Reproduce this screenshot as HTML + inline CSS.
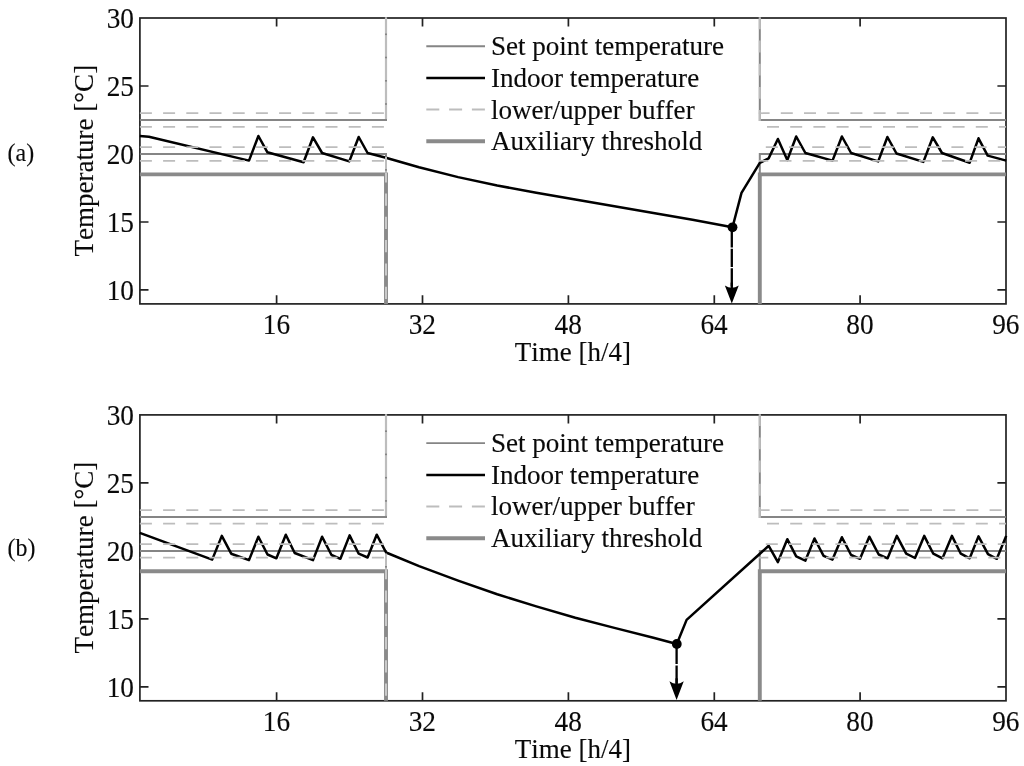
<!DOCTYPE html>
<html><head><meta charset="utf-8"><title>Temperature</title>
<style>
html,body{margin:0;padding:0;background:#fff;}
body{width:1024px;height:766px;overflow:hidden;}
svg{display:block;}
svg text{font-family:"Liberation Serif","Times New Roman",serif;font-size:27.3px;fill:#0a0a0a;stroke:#0a0a0a;stroke-width:0.12px;font-kerning:none;}
</style></head><body>
<svg width="1024" height="766" viewBox="0 0 1024 766">
<rect width="1024" height="766" fill="#fff"/>
<g transform="translate(0,0.0)">
<rect x="139.9" y="18.0" width="866.1" height="285.9" fill="none" stroke="#222" stroke-width="1.7"/>
<path d="M276.6 303.9v-8.6M276.6 18.0v8.6M422.5 303.9v-8.6M422.5 18.0v8.6M568.4 303.9v-8.6M568.4 18.0v8.6M714.3 303.9v-8.6M714.3 18.0v8.6M860.1 303.9v-8.6M860.1 18.0v8.6M139.9 289.9h8.6M1006.0 289.9h-8.6M139.9 222.0h8.6M1006.0 222.0h-8.6M139.9 154.0h8.6M1006.0 154.0h-8.6M139.9 86.0h8.6M1006.0 86.0h-8.6" stroke="#222" stroke-width="1.7" fill="none"/>
<path d="M139.9 120.0H386.0V17.5 M759.8 17.5V120.0H1006.0" stroke="#858585" stroke-width="2" fill="none"/>
<path d="M139.9 154.0H386.0V174.4 M759.8 174.4V154.0H1006.0" stroke="#858585" stroke-width="2" fill="none"/>
<polyline points="139.8,136.0 148.9,136.8 249.0,160.6 258.4,136.0 267.3,152.2 303.6,162.2 313.0,137.3 322.1,153.0 349.3,161.4 358.7,137.0 367.6,153.0 385.9,157.8 419.0,167.3 458.1,177.1 497.2,185.5 536.3,192.7 575.3,199.4 614.4,206.3 653.4,212.9 692.5,219.7 732.5,227.3 741.5,192.9 759.8,162.9 768.6,158.4 777.9,139.0 787.3,160.1 796.2,136.5 805.4,153.0 832.5,160.6 841.9,136.5 851.1,153.0 878.2,161.4 887.4,137.0 896.5,153.5 923.4,161.9 932.8,137.3 942.0,153.0 969.7,162.7 978.5,138.3 987.7,155.6 1006.2,160.6" fill="none" stroke="#000" stroke-width="2.5" stroke-linejoin="round"/>
<path d="M139.9 174.4H386.0V303.9 M759.8 303.9V174.4H1006.0" stroke="#8a8a8a" stroke-width="3.9" fill="none"/>
<path d="M139.9 113.2H385.0" stroke="#bdbdbd" stroke-width="1.7" fill="none" stroke-dasharray="12 11.2"/>
<path d="M139.9 126.8H385.0" stroke="#bdbdbd" stroke-width="1.7" fill="none" stroke-dasharray="12 11.2"/>
<path d="M139.9 147.2H385.0" stroke="#bdbdbd" stroke-width="1.7" fill="none" stroke-dasharray="12 11.2"/>
<path d="M139.9 160.8H385.0" stroke="#bdbdbd" stroke-width="1.7" fill="none" stroke-dasharray="12 11.2"/>
<path d="M758.8 113.2H1006.0" stroke="#bdbdbd" stroke-width="1.7" fill="none" stroke-dasharray="12 11.2" stroke-dashoffset="1.2"/>
<path d="M767.0 126.8H1006.0" stroke="#bdbdbd" stroke-width="1.7" fill="none" stroke-dasharray="12 11.2"/>
<path d="M765.8 147.2H1006.0" stroke="#bdbdbd" stroke-width="1.7" fill="none" stroke-dasharray="12 11.2"/>
<path d="M758.8 160.8H1006.0" stroke="#bdbdbd" stroke-width="1.7" fill="none" stroke-dasharray="12 11.2" stroke-dashoffset="2.5"/>
<path d="M386.0 119.0V17.3" stroke="#bdbdbd" stroke-width="2.2" fill="none"/>
<rect x="385.0" y="33.5" width="2" height="1.6" fill="#858585"/>
<rect x="385.0" y="56.7" width="2" height="1.6" fill="#858585"/>
<rect x="385.0" y="80.0" width="2" height="1.6" fill="#858585"/>
<rect x="385.0" y="103.2" width="2" height="1.6" fill="#858585"/>
<path d="M386.0 156.5V172.4" stroke="#bdbdbd" stroke-width="2" fill="none"/>
<rect x="385.0" y="169.1" width="2" height="1.6" fill="#858585"/>
<path d="M386.0 172.4V303.9" stroke="#cdcdcd" stroke-width="1.9" fill="none" stroke-dasharray="12.2 11.1" stroke-dashoffset="2.2"/>
<path d="M759.8 17.3V121.0" stroke="#bdbdbd" stroke-width="2.1" fill="none" stroke-dasharray="11.9 11.3"/>
<path d="M731.8 227.3V287.8" stroke="#000" stroke-width="2.3" fill="none" stroke-dasharray="18.3 1.3" stroke-dashoffset="-1.8"/>
<path d="M731.8 282.6V288.8" stroke="#000" stroke-width="2.3" fill="none"/>
<path d="M731.80 303.50L724.85 285.60Q731.80 290.00 738.75 285.60Z" fill="#000"/>
<circle cx="732.5" cy="227.3" r="4.9" fill="#000"/>
<path d="M426.3 46.2H485.0" stroke="#858585" stroke-width="1.9"/>
<path d="M426.3 78.1H485.0" stroke="#000" stroke-width="2.5"/>
<path d="M426.3 109.5H485.0" stroke="#bdbdbd" stroke-width="2" stroke-dasharray="13 9.8"/>
<path d="M426.3 141.3H485.0" stroke="#8a8a8a" stroke-width="3.9"/>
<text transform="translate(490.90,55.20) scale(1,1.04)" style="font-size:27.1px">Set point temperature</text>
<text transform="translate(490.90,87.30) scale(1,1.04)" style="font-size:27.1px">Indoor temperature</text>
<text transform="translate(490.90,118.50) scale(1,1.04)" style="font-size:27.1px">lower/upper buffer</text>
<text transform="translate(490.90,149.90) scale(1,1.04)" style="font-size:27.1px">Auxiliary threshold</text>
<text transform="translate(276.43,333.80) scale(1,1.04)" text-anchor="middle">16</text>
<text transform="translate(422.30,333.80) scale(1,1.04)" text-anchor="middle">32</text>
<text transform="translate(568.18,333.80) scale(1,1.04)" text-anchor="middle">48</text>
<text transform="translate(714.05,333.80) scale(1,1.04)" text-anchor="middle">64</text>
<text transform="translate(859.93,333.80) scale(1,1.04)" text-anchor="middle">80</text>
<text transform="translate(1005.80,333.80) scale(1,1.04)" text-anchor="middle">96</text>
<text transform="translate(134.00,300.04) scale(1,1.04)" text-anchor="end">10</text>
<text transform="translate(134.00,232.05) scale(1,1.04)" text-anchor="end">15</text>
<text transform="translate(134.00,164.07) scale(1,1.04)" text-anchor="end">20</text>
<text transform="translate(134.00,96.08) scale(1,1.04)" text-anchor="end">25</text>
<text transform="translate(134.00,28.10) scale(1,1.04)" text-anchor="end">30</text>
<text transform="translate(572.90,360.70) scale(1,1.04)" style="font-size:27.0px" text-anchor="middle">Time [h/4]</text>
<text transform="translate(92.60,160.70) rotate(-90) scale(1,1.04)" style="font-size:27.05px" text-anchor="middle">Temperature [°C]</text>
<text x="7.6" y="161.2" style="font-size:24.2px" textLength="26.6" lengthAdjust="spacingAndGlyphs">(a)</text>
</g>
<g transform="translate(0,396.9)">
<rect x="139.9" y="18.0" width="866.1" height="285.9" fill="none" stroke="#222" stroke-width="1.7"/>
<path d="M276.6 303.9v-8.6M276.6 18.0v8.6M422.5 303.9v-8.6M422.5 18.0v8.6M568.4 303.9v-8.6M568.4 18.0v8.6M714.3 303.9v-8.6M714.3 18.0v8.6M860.1 303.9v-8.6M860.1 18.0v8.6M139.9 289.9h8.6M1006.0 289.9h-8.6M139.9 222.0h8.6M1006.0 222.0h-8.6M139.9 154.0h8.6M1006.0 154.0h-8.6M139.9 86.0h8.6M1006.0 86.0h-8.6" stroke="#222" stroke-width="1.7" fill="none"/>
<path d="M139.9 120.0H386.0V17.5 M759.8 17.5V120.0H1006.0" stroke="#858585" stroke-width="2" fill="none"/>
<path d="M139.9 154.0H386.0V174.4 M759.8 174.4V154.0H1006.0" stroke="#858585" stroke-width="2" fill="none"/>
<polyline points="139.8,136.0 212.2,162.7 221.8,139.0 231.2,156.8 249.0,163.2 258.4,139.8 267.5,157.6 276.4,161.4 285.8,137.8 294.7,156.1 313.0,163.2 322.1,139.8 331.5,158.1 340.4,161.9 349.6,138.5 358.7,156.8 367.6,160.6 376.7,137.8 386.1,155.6 419.1,169.3 458.1,183.8 497.2,197.4 536.3,209.5 575.3,220.9 614.4,231.0 653.4,240.8 676.8,247.1 686.6,223.0 768.7,148.9 777.9,165.2 787.3,142.3 796.2,159.4 805.4,163.7 814.5,141.6 823.6,158.9 832.5,162.7 841.9,140.3 851.1,158.1 860.0,161.9 869.3,139.8 878.7,157.6 887.6,161.4 896.8,139.0 906.2,156.8 915.0,161.1 924.2,139.0 933.3,156.8 942.5,161.4 951.9,139.0 960.8,156.8 969.7,161.4 978.5,139.5 988.0,157.3 996.8,161.9 1006.2,139.0" fill="none" stroke="#000" stroke-width="2.5" stroke-linejoin="round"/>
<path d="M139.9 174.4H386.0V303.9 M759.8 303.9V174.4H1006.0" stroke="#8a8a8a" stroke-width="3.9" fill="none"/>
<path d="M139.9 113.2H385.0" stroke="#bdbdbd" stroke-width="1.7" fill="none" stroke-dasharray="12 11.2"/>
<path d="M139.9 126.8H385.0" stroke="#bdbdbd" stroke-width="1.7" fill="none" stroke-dasharray="12 11.2"/>
<path d="M139.9 147.2H385.0" stroke="#bdbdbd" stroke-width="1.7" fill="none" stroke-dasharray="12 11.2"/>
<path d="M139.9 160.8H385.0" stroke="#bdbdbd" stroke-width="1.7" fill="none" stroke-dasharray="12 11.2"/>
<path d="M758.8 113.2H1006.0" stroke="#bdbdbd" stroke-width="1.7" fill="none" stroke-dasharray="12 11.2" stroke-dashoffset="1.2"/>
<path d="M767.0 126.8H1006.0" stroke="#bdbdbd" stroke-width="1.7" fill="none" stroke-dasharray="12 11.2"/>
<path d="M765.8 147.2H1006.0" stroke="#bdbdbd" stroke-width="1.7" fill="none" stroke-dasharray="12 11.2"/>
<path d="M758.8 160.8H1006.0" stroke="#bdbdbd" stroke-width="1.7" fill="none" stroke-dasharray="12 11.2" stroke-dashoffset="2.5"/>
<path d="M386.0 119.0V17.3" stroke="#bdbdbd" stroke-width="2.2" fill="none"/>
<rect x="385.0" y="33.5" width="2" height="1.6" fill="#858585"/>
<rect x="385.0" y="56.7" width="2" height="1.6" fill="#858585"/>
<rect x="385.0" y="80.0" width="2" height="1.6" fill="#858585"/>
<rect x="385.0" y="103.2" width="2" height="1.6" fill="#858585"/>
<path d="M386.0 156.5V172.4" stroke="#bdbdbd" stroke-width="2" fill="none"/>
<rect x="385.0" y="169.1" width="2" height="1.6" fill="#858585"/>
<path d="M386.0 172.4V303.9" stroke="#cdcdcd" stroke-width="1.9" fill="none" stroke-dasharray="12.2 11.1" stroke-dashoffset="2.2"/>
<path d="M759.8 17.3V121.0" stroke="#bdbdbd" stroke-width="2.1" fill="none" stroke-dasharray="11.9 11.3"/>
<path d="M676.6 247.1V286.9" stroke="#000" stroke-width="2.3" fill="none" stroke-dasharray="18.3 1.3" stroke-dashoffset="-1.8"/>
<path d="M676.6 281.4V287.9" stroke="#000" stroke-width="2.3" fill="none"/>
<path d="M676.60 303.20L669.45 284.40Q676.60 289.40 683.75 284.40Z" fill="#000"/>
<circle cx="676.8" cy="247.1" r="4.9" fill="#000"/>
<path d="M426.3 46.2H485.0" stroke="#858585" stroke-width="1.9"/>
<path d="M426.3 78.1H485.0" stroke="#000" stroke-width="2.5"/>
<path d="M426.3 109.5H485.0" stroke="#bdbdbd" stroke-width="2" stroke-dasharray="13 9.8"/>
<path d="M426.3 141.3H485.0" stroke="#8a8a8a" stroke-width="3.9"/>
<text transform="translate(490.90,55.20) scale(1,1.04)" style="font-size:27.1px">Set point temperature</text>
<text transform="translate(490.90,87.30) scale(1,1.04)" style="font-size:27.1px">Indoor temperature</text>
<text transform="translate(490.90,118.50) scale(1,1.04)" style="font-size:27.1px">lower/upper buffer</text>
<text transform="translate(490.90,149.90) scale(1,1.04)" style="font-size:27.1px">Auxiliary threshold</text>
<text transform="translate(276.43,333.80) scale(1,1.04)" text-anchor="middle">16</text>
<text transform="translate(422.30,333.80) scale(1,1.04)" text-anchor="middle">32</text>
<text transform="translate(568.18,333.80) scale(1,1.04)" text-anchor="middle">48</text>
<text transform="translate(714.05,333.80) scale(1,1.04)" text-anchor="middle">64</text>
<text transform="translate(859.93,333.80) scale(1,1.04)" text-anchor="middle">80</text>
<text transform="translate(1005.80,333.80) scale(1,1.04)" text-anchor="middle">96</text>
<text transform="translate(134.00,300.04) scale(1,1.04)" text-anchor="end">10</text>
<text transform="translate(134.00,232.05) scale(1,1.04)" text-anchor="end">15</text>
<text transform="translate(134.00,164.07) scale(1,1.04)" text-anchor="end">20</text>
<text transform="translate(134.00,96.08) scale(1,1.04)" text-anchor="end">25</text>
<text transform="translate(134.00,28.10) scale(1,1.04)" text-anchor="end">30</text>
<text transform="translate(572.90,360.70) scale(1,1.04)" style="font-size:27.0px" text-anchor="middle">Time [h/4]</text>
<text transform="translate(92.60,160.70) rotate(-90) scale(1,1.04)" style="font-size:27.05px" text-anchor="middle">Temperature [°C]</text>
<text x="7.6" y="159.1" style="font-size:24.2px" textLength="27.9" lengthAdjust="spacingAndGlyphs">(b)</text>
</g>
</svg>
</body></html>
